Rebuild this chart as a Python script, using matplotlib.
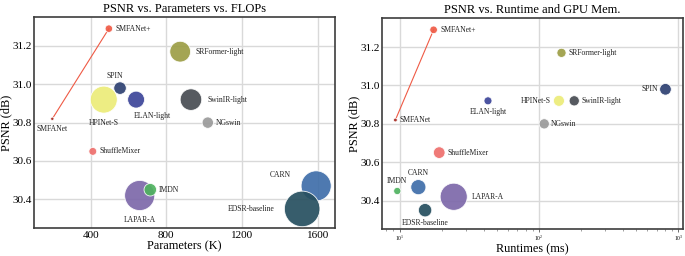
import matplotlib
matplotlib.use("Agg")
import matplotlib.pyplot as plt
import numpy as np

models = ["SMFANet", "SMFANet+", "SRFormer-light", "SPIN", "HPINet-S", "ELAN-light",
          "SwinIR-light", "NGswin", "ShuffleMixer", "LAPAR-A", "IMDN", "CARN", "EDSR-baseline"]
psnr = [30.82, 31.29, 31.17, 30.98, 30.92, 30.92, 30.92, 30.80, 30.65, 30.42, 30.45, 30.47, 30.35]
params_k = [197, 496, 873, 555, 469, 640, 930, 1019, 411, 659, 715, 1592, 1518]
flops_g = [2, 10, 77, 28, 130, 51, 83, 23, 11, 162, 28, 162, 226]
runtime_ms = [9.3, 17.5, 145, 809, 139, 43, 179, 109, 19.2, 24.4, 9.6, 13.6, 15.2]
gpu_mem = [5, 20, 29, 47, 42, 22, 36, 36, 47, 254, 18, 79, 62]

colors = ["#a8322a", "#ef5a45", "#9c9e45", "#2e4172", "#ecec78", "#3d4599",
          "#474c52", "#9a9a9a", "#ee6f6c", "#7d68aa", "#4fb25f", "#3f6ea9", "#264f5f"]

plt.rcParams["font.family"] = ["Liberation Serif", "DejaVu Serif"]

fig = plt.figure(figsize=(6.85, 2.56), dpi=100)
ax1 = fig.add_axes([0.0496, 0.109, 0.439, 0.824])
ax2 = fig.add_axes([0.557, 0.104, 0.44, 0.8245])

label_fs = 5.5

def style(ax):
    ax.grid(True, color="#d9d9d9", linewidth=1.0, zorder=0)
    ax.set_axisbelow(True)
    for s in ax.spines.values():
        s.set_color("#3d3d3d")
        s.set_linewidth(1.2)
    ax.set_ylim(30.25, 31.35)
    ax.set_yticks([30.4, 30.6, 30.8, 31.0, 31.2])
    ax.set_yticklabels(["30.4", "30.6", "30.8", "31.0", "31.2"])
    ax.tick_params(axis="y", labelsize=8, length=0, pad=1.5)
    ax.set_ylabel("PSNR (dB)", fontsize=8.8, labelpad=0)

# ---------- left ----------
style(ax1)
ax1.plot(params_k[:2], psnr[:2], color="#ef5a45", linewidth=0.8, zorder=2)
ax1.scatter(params_k, psnr, s=[f * 2.9 for f in flops_g], c=colors,
            edgecolors="white", linewidths=0.6, alpha=0.92, zorder=3)
ax1.set_xlim(100, 1690)
ax1.set_xticks([400, 800, 1200, 1600])
ax1.tick_params(axis="x", labelsize=8, length=0, pad=2)
ax1.set_xlabel("Parameters (K)", fontsize=8.8, labelpad=0)
ax1.set_title("PSNR vs. Parameters vs. FLOPs", fontsize=9, pad=4)

left_offsets = {
    "SMFANet": (0, -7, "center", "center"),
    "SMFANet+": (5, 0, "left", "center"),
    "SRFormer-light": (11, 0, "left", "center"),
    "SPIN": (-4, 9, "center", "center"),
    "HPINet-S": (0, -17, "center", "center"),
    "ELAN-light": (-2, -12, "left", "center"),
    "SwinIR-light": (12, 0, "left", "center"),
    "NGswin": (6, 0, "left", "center"),
    "ShuffleMixer": (5, 0, "left", "center"),
    "IMDN": (6, 0, "left", "center"),
    "LAPAR-A": (0, -18, "center", "center"),
    "CARN": (-18, 8, "right", "center"),
    "EDSR-baseline": (-20, 0, "right", "center"),
}
for m, x, y in zip(models, params_k, psnr):
    dx, dy, ha, va = left_offsets[m]
    ax1.annotate(m, (x, y), xytext=(dx, dy), textcoords="offset points",
                 ha=ha, va=va, fontsize=label_fs, color="#222222", zorder=4)

# ---------- right ----------
style(ax2)
ax2.set_xscale("log")
ax2.plot(runtime_ms[:2], psnr[:2], color="#ef5a45", linewidth=0.8, zorder=2)
ax2.scatter(runtime_ms, psnr, s=[g * 1.5 for g in gpu_mem], c=colors,
            edgecolors="white", linewidths=0.6, alpha=0.92, zorder=3)
ax2.set_xlim(7.4, 1080)
ax2.tick_params(axis="x", which="major", labelsize=4, length=2.5, width=0.6, pad=0.5, color="#555555")
ax2.tick_params(axis="x", which="minor", length=1.5, width=0.5, color="#777777")
ax2.set_xlabel("Runtimes (ms)", fontsize=8.8, labelpad=0)
ax2.set_title("PSNR vs. Runtime and GPU Mem.", fontsize=9, pad=4)

right_offsets = {
    "SMFANet": (3, 0, "left", "center"),
    "SMFANet+": (5, 0, "left", "center"),
    "SRFormer-light": (5, 0, "left", "center"),
    "SPIN": (-5, 0, "right", "center"),
    "HPINet-S": (-6, 0, "right", "center"),
    "ELAN-light": (0, -8, "center", "center"),
    "SwinIR-light": (5, 0, "left", "center"),
    "NGswin": (5, 0, "left", "center"),
    "ShuffleMixer": (6, 0, "left", "center"),
    "IMDN": (0, 7, "center", "center"),
    "LAPAR-A": (13, 0, "left", "center"),
    "CARN": (0, 10, "center", "center"),
    "EDSR-baseline": (0, -9, "center", "center"),
}
for m, x, y in zip(models, runtime_ms, psnr):
    dx, dy, ha, va = right_offsets[m]
    ax2.annotate(m, (x, y), xytext=(dx, dy), textcoords="offset points",
                 ha=ha, va=va, fontsize=label_fs, color="#222222", zorder=4)

fig.savefig("out.png", dpi=100)
